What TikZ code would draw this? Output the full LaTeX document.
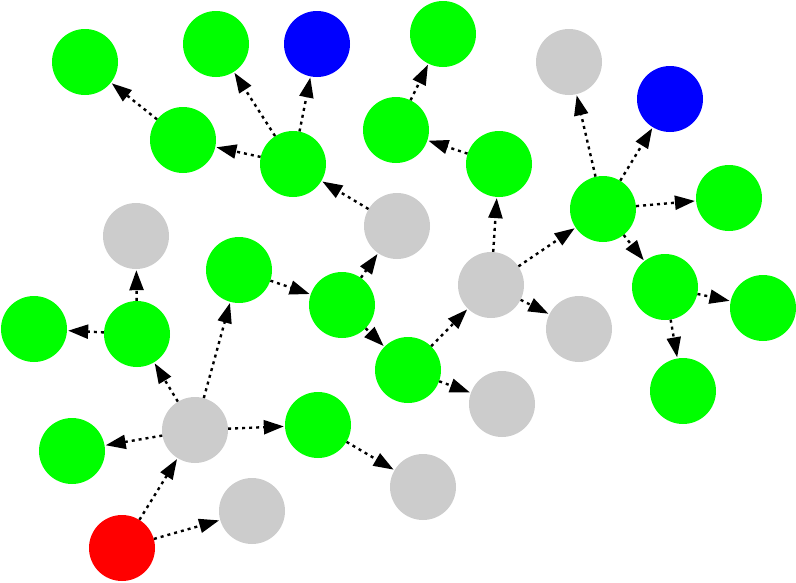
\documentclass[tikz,border=0pt]{standalone}
\usetikzlibrary{arrows.meta}
\definecolor{cgreen}{HTML}{00FF00}
\definecolor{cblue}{HTML}{0000FF}
\definecolor{cred}{HTML}{FF0000}
\definecolor{cgray}{HTML}{CCCCCC}
\tikzset{
  vtx/.style={circle,minimum size=66pt,inner sep=0pt,draw=none},
  gn/.style={vtx,fill=cgreen},
  bn/.style={vtx,fill=cblue},
  rn/.style={vtx,fill=cred},
  yn/.style={vtx,fill=cgray},
  edge/.style={-{Triangle[length=20pt 0 0,width=14pt 0 0]},line width=2.4pt,dash pattern=on 3pt off 4pt,shorten >=1pt}
}
\begin{document}
\begin{tikzpicture}[x=1pt,y=-1pt]
\useasboundingbox (0,0) rectangle (796,582);
\node[rn] (n1) at (122,548) {};
\node[yn] (n2) at (252,511) {};
\node[yn] (n3) at (195,430) {};
\node[gn] (n4) at (72,451) {};
\node[gn] (n5) at (318,425) {};
\node[yn] (n6) at (423,487) {};
\node[gn] (n7) at (137,334) {};
\node[gn] (n8) at (34,329) {};
\node[yn] (n9) at (136,236) {};
\node[gn] (n10) at (239,270) {};
\node[gn] (n11) at (342,305) {};
\node[yn] (n12) at (397,226) {};
\node[gn] (n13) at (293,164) {};
\node[gn] (n14) at (183,140) {};
\node[gn] (n15) at (85,62) {};
\node[gn] (n16) at (216,44) {};
\node[bn] (n17) at (317,44) {};
\node[gn] (n18) at (408,370) {};
\node[yn] (n19) at (502,404) {};
\node[yn] (n20) at (491,285) {};
\node[yn] (n21) at (579,329) {};
\node[gn] (n22) at (499,164) {};
\node[gn] (n23) at (396,130) {};
\node[gn] (n24) at (443,34) {};
\node[gn] (n25) at (603,209) {};
\node[yn] (n26) at (569,62) {};
\node[bn] (n27) at (670,99) {};
\node[gn] (n28) at (729,198) {};
\node[gn] (n29) at (665,287) {};
\node[gn] (n30) at (763,308) {};
\node[gn] (n31) at (683,391) {};
\foreach \a/\b in {n1/n3,n1/n2,n3/n4,n3/n5,n3/n7,n3/n10,n5/n6,n7/n8,n7/n9,
  n10/n11,n11/n12,n11/n18,n12/n13,n13/n14,n13/n16,n13/n17,n14/n15,
  n18/n19,n18/n20,n20/n21,n20/n22,n20/n25,n22/n23,n23/n24,
  n25/n26,n25/n27,n25/n28,n25/n29,n29/n30,n29/n31}
  \draw[edge] (\a) -- (\b);
\end{tikzpicture}
\end{document}
